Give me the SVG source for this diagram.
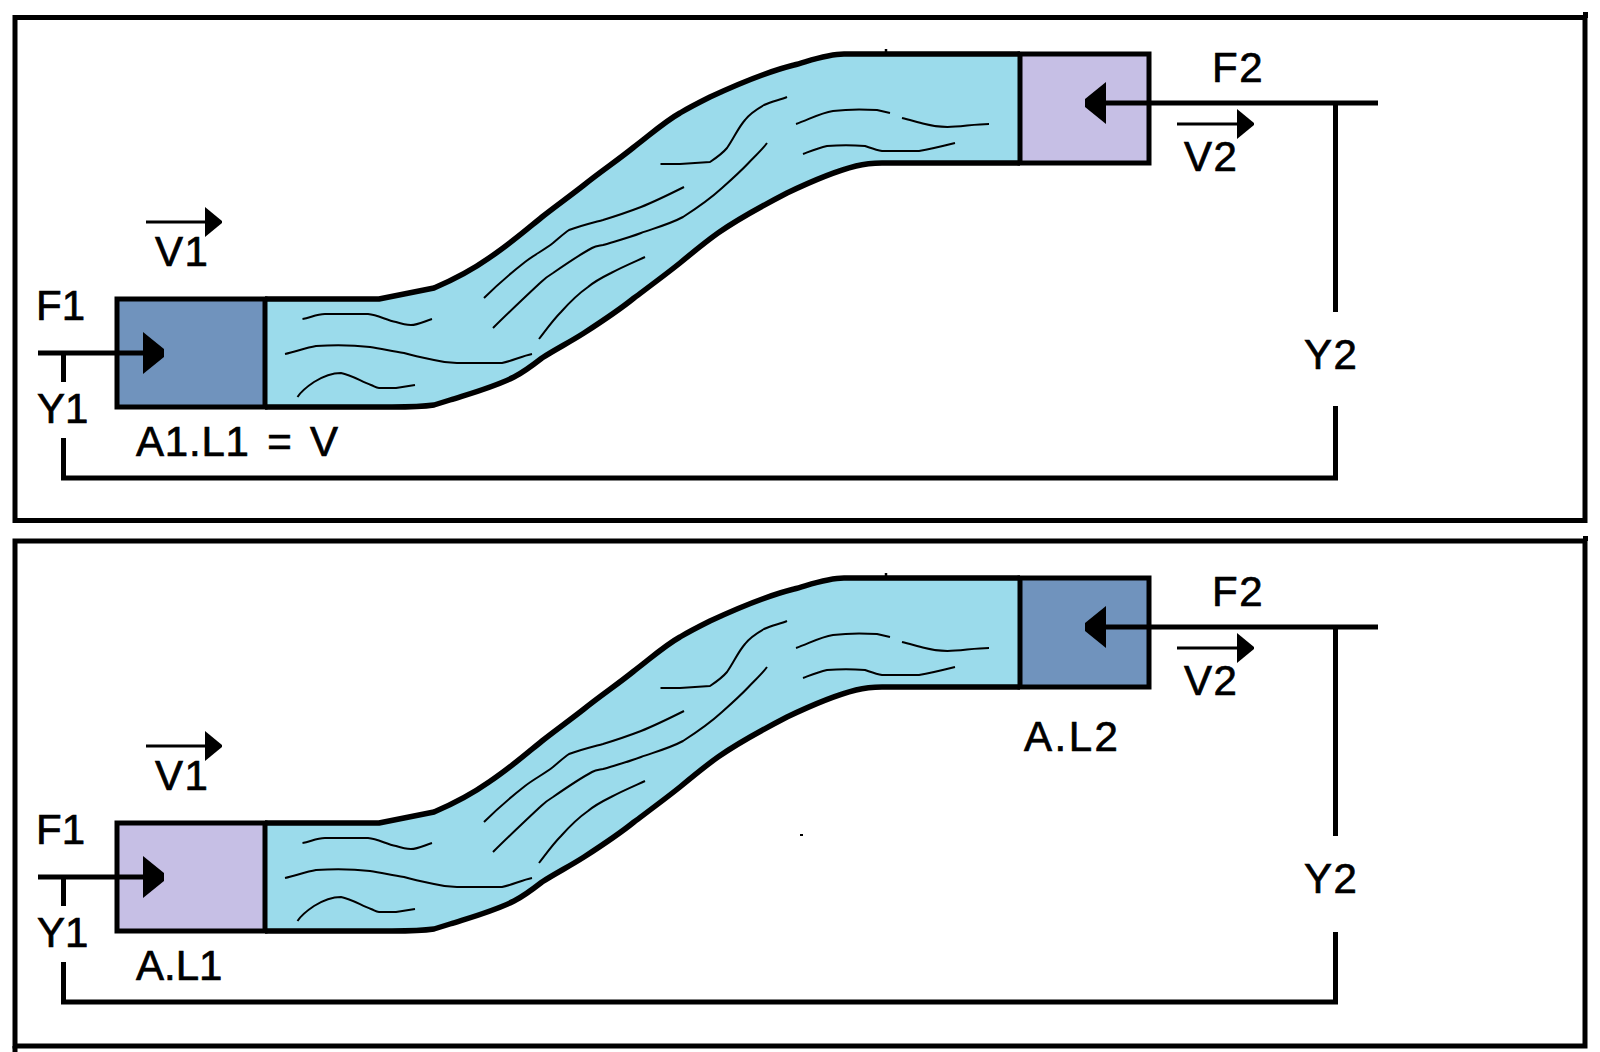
<svg xmlns="http://www.w3.org/2000/svg" width="1600" height="1052" viewBox="0 0 1600 1052">
<style>
.frame{fill:none;stroke:#000;stroke-width:5}
.box{stroke:#000;stroke-width:5}
.dark{fill:#7093bd}
.lilac{fill:#c6bfe5}
.wall{fill:none;stroke:#000;stroke-width:5.500;stroke-linejoin:round}
.flow{fill:none;stroke:#000;stroke-width:2;stroke-linejoin:round}
.conn{fill:none;stroke:#000;stroke-width:5}
.vec{fill:none;stroke:#000;stroke-width:3.200}
text{font-family:"Liberation Sans",Arial,sans-serif;font-size:42px;fill:#000;stroke:#000;stroke-width:.7px}
.wide{letter-spacing:1.500px}
.eq{letter-spacing:.8px;word-spacing:5px}
</style>
<defs>
<marker id="force" markerUnits="userSpaceOnUse" markerWidth="24" markerHeight="42" refX="0" refY="21" orient="auto"><path d="M0 0L21 17V25L0 42Z" fill="#000"/></marker>
<marker id="vector" markerUnits="userSpaceOnUse" markerWidth="18" markerHeight="32" refX="0" refY="16" orient="auto"><path d="M0 1L17 15V17L0 31Z" fill="#000"/></marker>
<g id="pipe">
<path d="M265 299H379L434 288C455 279 472 270 489 258C510 244 526 230 542 217C556 206 570 196 584 185C600 172 618 160 634 147C650 135 664 122 680 113C690 107 700 102 710 97C738 84 766 72 794 65C812 60 828 54 844 54H1020V163H882C872 163 864 164 856 166C832 172 810 182 787 193C762 206 738 219 718 233C704 243 692 253 680 263C665 275 650 286 634 298C618 311 601 322 584 333C570 342 556 349 542 358C533 365 524 372 514 377C494 387 472 393 450 400L434 405C420 407 405 407 392 407H265Z" fill="#9bdbeb"/>
<path class="wall" d="M265 299H379L434 288C455 279 472 270 489 258C510 244 526 230 542 217C556 206 570 196 584 185C600 172 618 160 634 147C650 135 664 122 680 113C690 107 700 102 710 97C738 84 766 72 794 65C812 60 828 54 844 54H1020"/>
<path class="wall" d="M1020 163H882C872 163 864 164 856 166C832 172 810 182 787 193C762 206 738 219 718 233C704 243 692 253 680 263C665 275 650 286 634 298C618 311 601 322 584 333C570 342 556 349 542 358C533 365 524 372 514 377C494 387 472 393 450 400L434 405C420 407 405 407 392 407H265"/>
<path d="M886 49V54" stroke="#000" stroke-width="2.500" fill="none"/>
<path class="flow" d="M302.500 319C310 318 316 314 325 314H368C378 315 386 320 396 322C402 324 406 325 411 325C418 325 425 321 432 319"/>
<path class="flow" d="M285 354C295 352 305 348 316 346C334 345 352 345 370 347C382 349 392 351 404 353C414 356 424 358 434 360C442 362 450 363 457 363H502C512 361 522 356 532 354"/>
<path class="flow" d="M297.500 397C302 390 308 386 314 382C322 377 332 373 341 373C352 375 362 382 371 385C374 386 376 388 379 388H396L415 385"/>
<path class="flow" d="M660.500 164H680L710 162C716 158 722 154 727 148C734 138 738 128 745 120C750 113 757 109 764 105C772 101 780 100 787 97"/>
<path class="flow" d="M796 124C808 120 820 113 833 111C848 109 862 109 877 110L890 113M902 118C910 120 917 122 925 124C932 126 940 127 947.500 127C960 127 975 124 989 124"/>
<path class="flow" d="M803 154C811 151 818 148 827 146C840 145 852 145 865 146C871 148 876 150 882 151H919C931 149 943 146 955 143"/>
<path class="flow" d="M767 143C762 150 755 156 748.500 163C740 172 731 180 722 188C710 199 697 208 683 217C670 224 655 228 641 233C628 238 616 241 603 245C598 246 596 246 592 248C579 255 566 264 553 273C548 276 544 279 540 283C524 298 508 313 493 328"/>
<path class="flow" d="M684 187C670 194 656 201 641 207C628 212 616 216 603 220C592 223 580 226 569 230C563 234 558 239 553 243C544 250 534 255 525 262C511 273 497 285 484 298"/>
<path class="flow" d="M645 257C634 262 622 267 611 273C603 277 595 281 588 287C578 294 569 303 561 312C553 320 546 330 539 339"/>
</g>
</defs>
<rect width="1600" height="1052" fill="#fff"/>
<g id="frames">
<rect id="frame-top" class="frame" x="15" y="17.500" width="1570" height="503"/>
<rect id="frame-bottom" class="frame" x="15" y="541" width="1570" height="505"/>
<path class="frame" d="M15 1046V1052M1585.500 12V18M1585.500 536V541"/>
</g>
<g id="panel-1-pipe"><use href="#pipe"/></g>
<g id="panel-2-pipe"><use href="#pipe" y="524"/></g>
<g id="panel-1-piston-1"><rect class="box dark" x="117" y="299" width="148" height="108"/></g>
<g id="panel-1-piston-2"><rect class="box lilac" x="1020" y="54" width="129" height="109"/></g>
<g id="panel-2-piston-1"><rect class="box lilac" x="117" y="823" width="148" height="108"/></g>
<g id="panel-2-piston-2"><rect class="box dark" x="1020" y="578" width="129" height="109"/></g>
<g id="connectors">
<path class="conn" d="M38 353H143" marker-end="url(#force)"/>
<path class="conn" d="M63.500 353V382M63.500 438V478H1335.500V406M1335.500 312V103"/>
<path class="conn" d="M1378 103H1106" marker-end="url(#force)"/>
<path class="vec" d="M146 222H205" marker-end="url(#vector)"/>
<path class="vec" d="M1177 124H1237" marker-end="url(#vector)"/>
<path class="conn" d="M38 877H143" marker-end="url(#force)"/>
<path class="conn" d="M63.500 877V906M63.500 962V1002H1335.500V932M1335.500 836V627"/>
<path class="conn" d="M1378 627H1106" marker-end="url(#force)"/>
<path class="vec" d="M146 746H205" marker-end="url(#vector)"/>
<path class="vec" d="M1177 648H1237" marker-end="url(#vector)"/>
</g>
<g id="labels">
<text x="36" y="320">F1</text>
<text x="37" y="423">Y1</text>
<text class="wide" x="155" y="266">V1</text>
<text class="eq" x="136" y="456">A1.L1 = V</text>
<text class="wide" x="1212" y="82">F2</text>
<text class="wide" x="1184" y="171">V2</text>
<text class="wide" x="1304" y="369">Y2</text>
<text x="36" y="844">F1</text>
<text x="37" y="947">Y1</text>
<text class="wide" x="155" y="790">V1</text>
<text x="136" y="980">A.L1</text>
<text class="wide" x="1212" y="606">F2</text>
<text class="wide" x="1184" y="695">V2</text>
<text class="wide" x="1304" y="893">Y2</text>
<text x="1024" y="751" style="letter-spacing:2.500px">A.L2</text>
</g>
<rect id="speck" x="800" y="834" width="3" height="2" fill="#000"/>
</svg>
